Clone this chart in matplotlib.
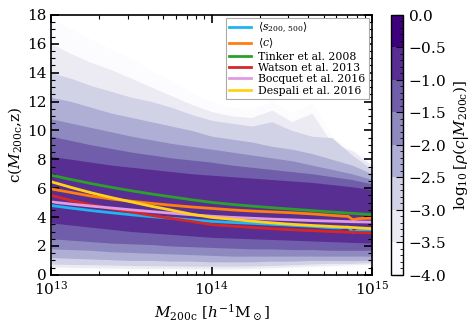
import numpy as np
import matplotlib
matplotlib.use('Agg')
import matplotlib.pyplot as plt
from matplotlib.colors import BoundaryNorm
from matplotlib.cm import ScalarMappable
from matplotlib.ticker import MultipleLocator, FormatStrFormatter

plt.rcParams['font.family'] = 'DejaVu Serif'
plt.rcParams['mathtext.fontset'] = 'dejavuserif'

# mass grid (log10 M200c)
logM = [13.0, 13.125, 13.25, 13.375, 13.5, 13.625, 13.75, 13.875, 14.0,
        14.125, 14.25, 14.375, 14.5, 14.625, 14.75, 14.875, 15.0]

# contour levels of log10 rho(c|M)
levels = [-4.0, -3.5, -3.0, -2.5, -2.0, -1.5, -1.0, -0.5, 0.0]

# upper / lower c edges of the region above each level
upper = {
    -4.0: [17.8, 17.0, 16.3, 15.6, 15.0, 14.1, 13.5, 12.6, 12.0, 11.6, 11.5, 12.0, 11.2, 11.9, 9.6, 8.7, 7.9],
    -3.5: [16.0, 15.3, 14.7, 14.2, 13.6, 13.0, 12.4, 11.8, 11.3, 11.0, 10.9, 11.4, 10.6, 11.2, 9.1, 8.6, 7.6],
    -3.0: [14.0, 13.6, 13.1, 12.7, 12.3, 12.0, 11.6, 11.1, 10.7, 10.5, 10.3, 10.6, 10.0, 9.6, 9.5, 8.3, 7.3],
    -2.5: [12.3, 12.0, 11.6, 11.2, 10.9, 10.6, 10.3, 10.0, 9.6, 9.4, 9.2, 8.9, 8.7, 8.4, 8.0, 7.6, 7.0],
    -2.0: [10.8, 10.5, 10.2, 9.9, 9.6, 9.35, 9.1, 8.9, 8.7, 8.5, 8.3, 8.1, 7.9, 7.6, 7.3, 7.0, 6.6],
    -1.5: [9.6, 9.3, 9.0, 8.75, 8.5, 8.3, 8.1, 7.95, 7.8, 7.6, 7.45, 7.3, 7.15, 7.0, 6.8, 6.6, 6.3],
    -1.0: [8.2, 8.0, 7.8, 7.6, 7.45, 7.3, 7.15, 7.0, 6.9, 6.8, 6.7, 6.6, 6.5, 6.4, 6.25, 6.1, 5.9],
}
lower = {
    -4.0: [0.3, 0.3, 0.3, 0.3, 0.3, 0.3, 0.3, 0.3, 0.3, 0.3, 0.35, 0.4, 0.45, 0.5, 0.55, 0.6, 0.65],
    -3.5: [0.55, 0.52, 0.5, 0.48, 0.46, 0.45, 0.44, 0.43, 0.42, 0.42, 0.45, 0.5, 0.55, 0.6, 0.65, 0.7, 0.75],
    -3.0: [0.75, 0.72, 0.7, 0.68, 0.65, 0.63, 0.62, 0.6, 0.6, 0.6, 0.62, 0.65, 0.7, 0.75, 0.8, 0.8, 0.85],
    -2.5: [1.2, 1.15, 1.1, 1.05, 1.0, 1.0, 0.95, 0.95, 0.9, 0.9, 0.9, 0.95, 0.95, 1.0, 1.0, 1.0, 1.0],
    -2.0: [1.8, 1.75, 1.7, 1.6, 1.55, 1.5, 1.45, 1.4, 1.35, 1.3, 1.3, 1.3, 1.3, 1.3, 1.3, 1.3, 1.3],
    -1.5: [2.5, 2.4, 2.3, 2.2, 2.15, 2.1, 2.0, 1.95, 1.9, 1.85, 1.8, 1.8, 1.75, 1.75, 1.7, 1.7, 1.7],
    -1.0: [3.6, 3.45, 3.3, 3.15, 3.0, 2.9, 2.8, 2.7, 2.6, 2.55, 2.5, 2.45, 2.4, 2.35, 2.3, 2.25, 2.2],
}

# measured mean relations (finer near the high-mass end)
logM_meas = [13.0, 13.125, 13.25, 13.375, 13.5, 13.625, 13.75, 13.875, 14.0,
             14.125, 14.25, 14.375, 14.5, 14.625, 14.75, 14.8, 14.85, 14.88, 14.92, 15.0]
s_mean = [4.8, 4.62, 4.45, 4.3, 4.16, 4.03, 3.92, 3.8, 3.7, 3.63, 3.57, 3.5, 3.43, 3.36, 3.26, 3.25, 3.32, 2.95, 3.1, 3.1]
c_mean = [5.95, 5.7, 5.45, 5.25, 5.1, 4.95, 4.82, 4.7, 4.6, 4.5, 4.42, 4.36, 4.3, 4.22, 4.12, 4.08, 4.05, 3.82, 3.9, 3.92]

# literature c-M relations
c_tinker = [6.9, 6.6, 6.32, 6.06, 5.82, 5.6, 5.4, 5.2, 5.02, 4.88, 4.76, 4.65, 4.55, 4.45, 4.35, 4.26, 4.17]
c_watson = [5.5, 5.15, 4.85, 4.58, 4.35, 4.12, 3.9, 3.7, 3.48, 3.38, 3.28, 3.2, 3.12, 3.06, 3.0, 2.95, 2.9]
c_bocquet = [5.05, 4.9, 4.76, 4.63, 4.5, 4.38, 4.27, 4.16, 4.06, 3.98, 3.92, 3.86, 3.81, 3.76, 3.72, 3.68, 3.65]
c_despali = [6.45, 6.05, 5.68, 5.35, 5.05, 4.75, 4.48, 4.2, 3.98, 3.85, 3.72, 3.6, 3.5, 3.42, 3.35, 3.28, 3.2]

fig = plt.figure(figsize=(4.74, 3.23), dpi=100)
ax = fig.add_axes([0.108, 0.149, 0.677, 0.805])
cax = fig.add_axes([0.825, 0.149, 0.025, 0.805])

cmap = plt.get_cmap('Purples')
norm = BoundaryNorm(levels, cmap.N)

M = 10**np.array(logM)
for lev in levels[:-2]:
    col = cmap(norm(lev + 0.25))
    ax.fill_between(M, lower[lev], upper[lev], color=col, lw=0)

Mm = 10**np.array(logM_meas)
lw = 2.0
ax.plot(Mm, s_mean, color='#1fb4f2', lw=lw, label=r'$\langle s_{200,\,500}\rangle$')
ax.plot(Mm, c_mean, color='#ff7f0e', lw=lw, label=r'$\langle c\rangle$')
ax.plot(M, c_tinker, color='#2ca02c', lw=lw, label='Tinker et al. 2008')
ax.plot(M, c_watson, color='#d62728', lw=lw, label='Watson et al. 2013')
ax.plot(M, c_bocquet, color='#e09ce0', lw=lw, label='Bocquet et al. 2016')
ax.plot(M, c_despali, color='#ffd21a', lw=lw, label='Despali et al. 2016')

ax.set_xscale('log')
ax.set_xlim(1e13, 1e15)
ax.set_ylim(0, 18)
ax.yaxis.set_major_locator(MultipleLocator(2))
ax.yaxis.set_minor_locator(MultipleLocator(0.5))
ax.tick_params(which='both', direction='in', top=True, right=True, labelsize=11)
ax.tick_params(which='major', length=6, width=1.2)
ax.tick_params(which='minor', length=3, width=0.8)
ax.set_xlabel(r'$M_{\rm 200c}$ [$h^{-1}$M$_\odot$]', fontsize=11)
ax.set_ylabel(r'c($M_{\rm 200c}$,z)', fontsize=11, labelpad=2)
for s in ax.spines.values():
    s.set_linewidth(1.2)

leg = ax.legend(loc='upper right', fontsize=7.8, fancybox=False, framealpha=1,
                edgecolor='#aaaaaa', handlelength=2.0, handletextpad=0.7,
                borderpad=0.3, labelspacing=0.12, borderaxespad=0.3)
leg.get_frame().set_linewidth(0.8)

sm = ScalarMappable(norm=norm, cmap=cmap)
cb = fig.colorbar(sm, cax=cax, boundaries=levels, ticks=levels)
cb.ax.yaxis.set_major_formatter(FormatStrFormatter('$%.1f$'))
cb.ax.yaxis.set_minor_locator(MultipleLocator(0.1))
cb.ax.tick_params(which='both', direction='in', labelsize=11)
cb.ax.tick_params(which='major', length=5)
cb.ax.tick_params(which='minor', length=2.5)
cb.set_label(r'$\log_{10}[\rho(c|M_{\rm 200c})]$', fontsize=11)
cb.outline.set_linewidth(1.0)

fig.savefig('out.png', dpi=100)
